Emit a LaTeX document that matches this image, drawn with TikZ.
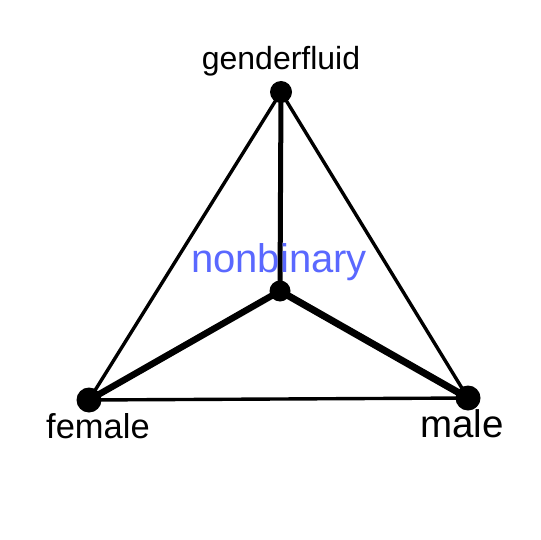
\documentclass[tikz,border=0pt]{standalone}
\usepackage{fontspec}
\setmainfont{Liberation Sans}
\definecolor{nbblue}{RGB}{90,104,255}
\begin{document}
\begin{tikzpicture}[x=1pt,y=-1pt,
  dot/.style={circle,fill=black,inner sep=0pt,minimum size=#1},
  outer/.style={line width=3.4pt,black},
  spoke/.style={line width=#1,black},
  lbl/.style={anchor=base,inner sep=0pt}]
\useasboundingbox (0,0) rectangle (540,540);
\node[dot=22pt] (gf) at (281,92) {};
\node[dot=21pt] (nb) at (280,291) {};
\node[dot=25pt] (fe) at (89,400) {};
\node[dot=25pt] (ma) at (468,398) {};
\draw[outer] (gf.center) -- (fe.center) -- (ma.center) -- cycle;
\draw[spoke=5pt] (gf.center) -- (nb.center);
\draw[spoke=6.5pt] (nb.center) -- (fe.center);
\draw[spoke=7pt] (nb.center) -- (ma.center);
\node[lbl,font=\fontsize{32}{32}\selectfont] (tgf) at (281,70) {genderfluid};
\node[lbl,font=\fontsize{40}{40}\selectfont,text=nbblue] (tnb) at (279,272) {nonbinary};
\node[lbl,font=\fontsize{34.5}{34.5}\selectfont] (tfe) at (98,438) {female};
\node[lbl,font=\fontsize{38.5}{38.5}\selectfont] (tma) at (462,437) {male};
\end{tikzpicture}
\end{document}
